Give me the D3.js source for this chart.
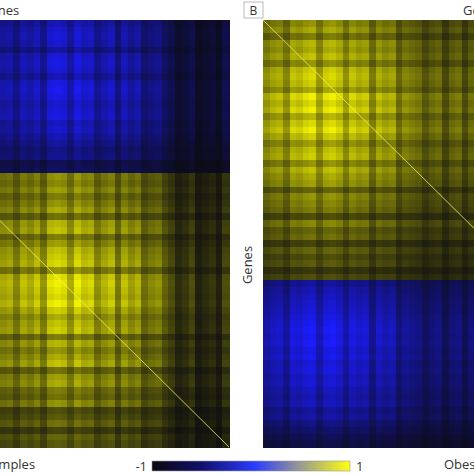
<!DOCTYPE html>
<html><head><meta charset="utf-8">
<script src="https://cdn.jsdelivr.net/npm/d3@7"></script>
<style>body{margin:0;background:#fff}text{font-family:"Open Sans",sans-serif;fill:#333}</style>
</head><body><svg id="c" width="474" height="474"></svg>
<script>
const leftRows=[-0.7,-0.8,-0.85,-0.8,-0.6,-0.85,-0.9,-0.85,-0.7,-0.9,-0.95,-0.9,-0.8,-0.85,-0.9,-0.75,-0.8,-0.7,-0.6,-0.5,-0.55,-0.3,-0.35,
 0.6,0.55,0.65,0.5,0.6,0.7,0.45,0.75,0.8,0.5,0.65,0.8,0.85,0.9,0.6,0.95,1,0.95,0.9,1,0.85,0.7,0.8,0.85,0.5,0.75,0.6,0.7,0.8,0.45,0.65,0.7,0.5,0.45,0.6,0.3,0.35,0.45,0.25,0.4,0.35];
const leftCols=[0.7,0.75,0.55,0.8,0.7,0.85,0.6,0.95,1,0.95,0.7,1,0.85,0.9,0.6,0.75,0.85,0.5,0.8,0.65,0.75,0.45,0.55,0.6,0.4,0.3,0.15,0.2,0.3,0.1,0.15,0.2,0.1,0.3];
const rightRows=[0.6,0.7,0.5,0.75,0.7,0.8,0.6,0.85,0.9,0.85,0.7,1,0.9,1,0.75,0.9,1,0.85,0.65,0.8,0.85,0.6,0.8,0.7,0.65,0.4,0.6,0.55,0.5,0.3,0.55,0.4,0.45,0.25,0.4,0.3,0.35,0.2,0.3,
 -0.6,-0.7,-0.75,-0.8,-0.85,-0.9,-0.95,-1,-0.95,-1,-0.9,-0.95,-0.85,-0.9,-0.8,-0.85,-0.75,-0.7,-0.75,-0.6,-0.65,-0.5,-0.4,-0.3,-0.25];
const rightCols=[0.65,0.75,0.8,0.6,0.9,0.85,0.95,1,0.7,0.95,1,0.9,0.65,0.9,0.8,0.85,0.55,0.8,0.7,0.75,0.45,0.6,0.55,0.5,0.35,0.45,0.5,0.3,0.45,0.5,0.3,0.45];
const leftDiag=[[0,0.47],[1,1]];
const rightDiag=[[0,0],[1,0.49]];
const barTicks=["-1","1"];
const barStops=[[0,"#0a0a10"],[0.25,"#10106a"],[0.52,"#2a3cff"],[0.75,"#9a9a90"],[1,"#ffff10"]];

const svg=d3.select("#c");
const col=d3.scaleLinear().domain([-1,0,1]).range(["#1c1cff","#0b0b10","#f2f200"]).clamp(true);
function panel(rows,cols,diag,x0,x1,y0,y1){
  const xb=d3.scaleBand().domain(d3.range(cols.length)).range([x0,x1]);
  const yb=d3.scaleBand().domain(d3.range(rows.length)).range([y0,y1]);
  const g=svg.append("g").attr("shape-rendering","crispEdges");
  rows.forEach((r,i)=>cols.forEach((c,j)=>{
    g.append("rect").attr("x",xb(j)).attr("y",yb(i)).attr("width",xb.bandwidth()+0.6).attr("height",yb.bandwidth()+0.6)
     .attr("fill",col(r*c));
  }));
  const xs=d3.scaleLinear().range([x0,x1]), ys=d3.scaleLinear().range([y0,y1]);
  svg.append("path").attr("d",d3.line().x(d=>xs(d[0])).y(d=>ys(d[1]))(diag)).attr("stroke","#f4f060").attr("stroke-width",1).attr("fill","none").attr("opacity",0.8);
}
panel(leftRows,leftCols,leftDiag,0,229,20,447);
panel(rightRows,rightCols,rightDiag,263,475,20,447);

svg.append("text").attr("x",-19).attr("y",15).attr("font-size",13).text("Genes");
svg.append("text").attr("x",-16).attr("y",469).attr("font-size",13).text("Samples");
svg.append("text").attr("x",463).attr("y",15).attr("font-size",13).text("Genes");
svg.append("text").attr("x",444).attr("y",469).attr("font-size",13).text("Obese");
svg.append("text").attr("transform","translate(252,265) rotate(-90)").attr("text-anchor","middle").attr("font-size",13).text("Genes");
svg.append("rect").attr("x",244).attr("y",2).attr("width",19).attr("height",16).attr("fill","#fff").attr("stroke","#bbb");
svg.append("text").attr("x",253.5).attr("y",15).attr("text-anchor","middle").attr("font-size",12).text("B");

const grad=svg.append("defs").append("linearGradient").attr("id","gb");
barStops.forEach(s=>grad.append("stop").attr("offset",s[0]).attr("stop-color",s[1]));
const bx=d3.scaleLinear().domain([0,1]).range([152,350]);
svg.append("rect").attr("x",bx(0)).attr("y",461).attr("width",bx(1)-bx(0)).attr("height",10).attr("fill","url(#gb)").attr("stroke","#999").attr("stroke-width",0.6);
svg.append("text").attr("x",bx(0)-5).attr("y",471).attr("text-anchor","end").attr("font-size",13).text(barTicks[0]);
svg.append("text").attr("x",bx(1)+6).attr("y",471).attr("font-size",13).text(barTicks[1]);
</script></body></html>
